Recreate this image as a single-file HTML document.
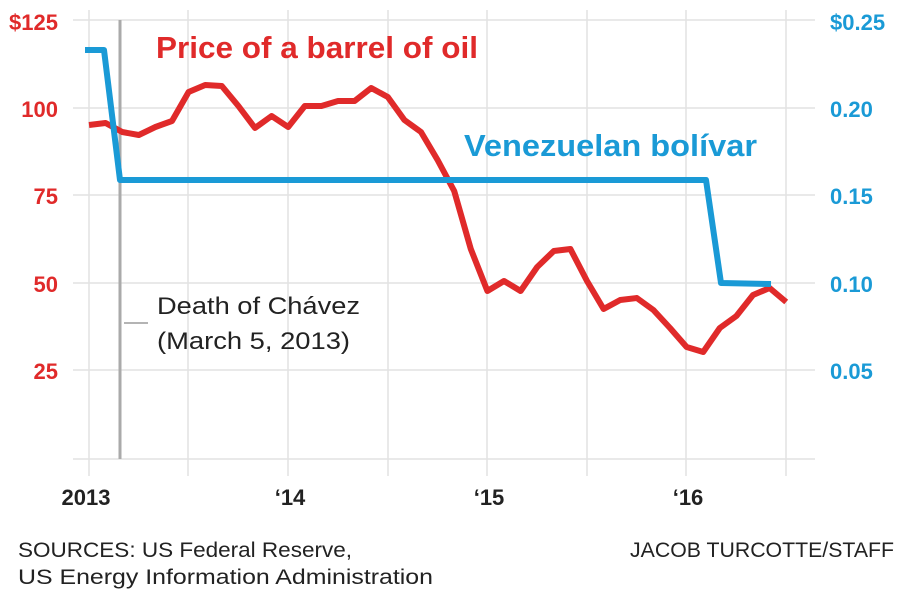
<!DOCTYPE html>
<html><head><style>
body{margin:0;background:#fff;width:900px;height:594px;overflow:hidden;font-family:"Liberation Sans",sans-serif}
</style></head><body>
<svg width="900" height="594" xmlns="http://www.w3.org/2000/svg" font-family="Liberation Sans, sans-serif">
<g stroke="#e2e2e2" stroke-width="1.5">
<line x1="73" y1="20" x2="815" y2="20"/><line x1="73" y1="108" x2="815" y2="108"/>
<line x1="73" y1="195" x2="815" y2="195"/><line x1="73" y1="283" x2="815" y2="283"/>
<line x1="73" y1="370" x2="815" y2="370"/><line x1="73" y1="459" x2="815" y2="459"/>
<line x1="89" y1="10" x2="89" y2="476"/><line x1="188" y1="10" x2="188" y2="476"/>
<line x1="288" y1="10" x2="288" y2="476"/><line x1="388" y1="10" x2="388" y2="476"/>
<line x1="487" y1="10" x2="487" y2="476"/><line x1="587" y1="10" x2="587" y2="476"/>
<line x1="686" y1="10" x2="686" y2="476"/><line x1="786" y1="10" x2="786" y2="476"/>
</g>
<line x1="120" y1="20" x2="120" y2="459" stroke="#aaa" stroke-width="3"/>
<line x1="124" y1="323" x2="148" y2="323" stroke="#888" stroke-width="1.2"/>
<polyline fill="none" stroke="#e02a2a" stroke-width="6" stroke-linejoin="round" points="89,125 105.6,123 122.2,132 138.8,135 155.4,127 172,121 188.6,92 205.2,85 221.8,86 238.4,106 255,128 271.6,116 288.2,127 304.8,106 321.4,106 338,101 354.6,101 371.2,88 387.8,97 404.4,120 421,132 437.6,160 454.2,191 470.8,249 487.4,291 504,281 520.6,291 537.2,267 553.8,251 570.4,249 587,281 603.6,309 620.2,300 636.8,298 653.4,310 670,328 686.6,347 703.2,352 719.8,328 736.4,316 753,295 769.6,288 786.2,302"/>
<polyline fill="none" stroke="#1a9ad6" stroke-width="6" stroke-linejoin="round" points="85,50 104,50 120,180 706,180 721,283 771,284"/>
<g font-size="22" font-weight="bold" fill="#e02a2a" text-anchor="end">
<text x="58" y="30">$125</text><text x="58" y="117">100</text><text x="58" y="204">75</text><text x="58" y="292">50</text><text x="58" y="379">25</text>
</g>
<g font-size="22" font-weight="bold" fill="#1a9ad6">
<text x="830" y="30">$0.25</text><text x="830" y="117">0.20</text><text x="830" y="204">0.15</text><text x="830" y="292">0.10</text><text x="830" y="379">0.05</text>
</g>
<text x="156" y="58" font-size="31" font-weight="bold" fill="#e02a2a" textLength="322" lengthAdjust="spacingAndGlyphs">Price of a barrel of oil</text>
<text x="464" y="156" font-size="31" font-weight="bold" fill="#1a9ad6" textLength="293" lengthAdjust="spacingAndGlyphs">Venezuelan bolívar</text>
<text x="157" y="314" font-size="24" fill="#222" textLength="203" lengthAdjust="spacingAndGlyphs">Death of Chávez</text>
<text x="157" y="349" font-size="24" fill="#222" textLength="193" lengthAdjust="spacingAndGlyphs">(March 5, 2013)</text>
<g font-size="22" font-weight="bold" fill="#222" text-anchor="middle">
<text x="86" y="505">2013</text><text x="290" y="505">‘14</text><text x="489" y="505">‘15</text><text x="688" y="505">‘16</text>
</g>
<g font-size="21" fill="#222">
<text x="18" y="557" textLength="334" lengthAdjust="spacingAndGlyphs">SOURCES: US Federal Reserve,</text>
<text x="18" y="584" textLength="415" lengthAdjust="spacingAndGlyphs">US Energy Information Administration</text>
<text x="630" y="557" textLength="264" lengthAdjust="spacingAndGlyphs">JACOB TURCOTTE/STAFF</text>
</g>
</svg>
</body></html>
